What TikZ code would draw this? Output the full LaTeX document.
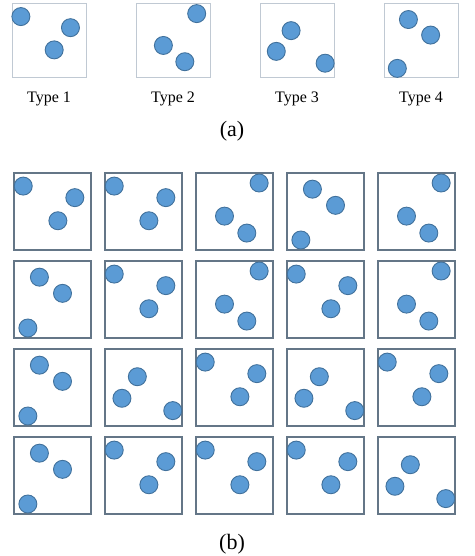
\documentclass[tikz,border=0pt]{standalone}
\usepackage{fontspec}
\setmainfont{Liberation Serif}
\usetikzlibrary{positioning}

\definecolor{dotfill}{RGB}{91,155,213}
\definecolor{dotedge}{RGB}{65,113,156}
\definecolor{celledge}{RGB}{100,118,135}
\definecolor{typeedge}{RGB}{192,201,211}

% dot positions of each type (fraction of box size, from top left)
\def\dotsA{0.12/0.17,0.79/0.32,0.57/0.62}
\def\dotsB{0.82/0.13,0.37/0.56,0.66/0.78}
\def\dotsC{0.42/0.36,0.22/0.64,0.88/0.80}
\def\dotsD{0.33/0.21,0.63/0.42,0.18/0.87}

% name, left, top, size, type, box style
\newcommand{\dotcell}[6]{%
  \node[#6, minimum size=#4] (#1) at ({#2+#4/2},{#3+#4/2}) {};
  \edef\dotlist{\csname dots#5\endcsname}%
  \foreach \u/\v [count=\k] in \dotlist
    \node[dot] (#1-\k) at ({#2+\u*#4},{#3+\v*#4}) {};
}

\begin{document}
\begin{tikzpicture}[
    x=1pt, y=-1pt,
    typebox/.style={rectangle, draw=typeedge, line width=1pt, inner sep=0pt},
    cell/.style={rectangle, draw=celledge, line width=1.4pt, inner sep=0pt},
    dot/.style={circle, fill=dotfill, draw=dotedge, line width=0.9pt, minimum size=18pt, inner sep=0pt},
    lbl/.style={inner sep=0pt, font=\fontsize{16}{18}\selectfont},
    caption/.style={inner sep=0pt, font=\fontsize{22}{24}\selectfont}
]
    \useasboundingbox (0,0) rectangle (474,556);

    % (a) the four types
    \foreach \t [count=\c] in {A,B,C,D} {
        \dotcell{type\c}{12+124*(\c-1)}{4}{74}{\t}{typebox}
        \node[lbl, below=13pt of type\c] (name\c) {Type \c};
    }
    \node[caption] (capa) at (232,131) {(a)};

    % (b) the grid
    \foreach \row [count=\r] in {{A,A,B,D,B},{D,A,B,A,B},{D,C,A,C,A},{D,A,A,A,C}} {
        \foreach \t [count=\c] in \row {
            \dotcell{r\r c\c}{14+91*(\c-1)}{173+88*(\r-1)}{77}{\t}{cell}
        }
    }
    \node[caption] (capb) at (232,544) {(b)};
\end{tikzpicture}
\end{document}
